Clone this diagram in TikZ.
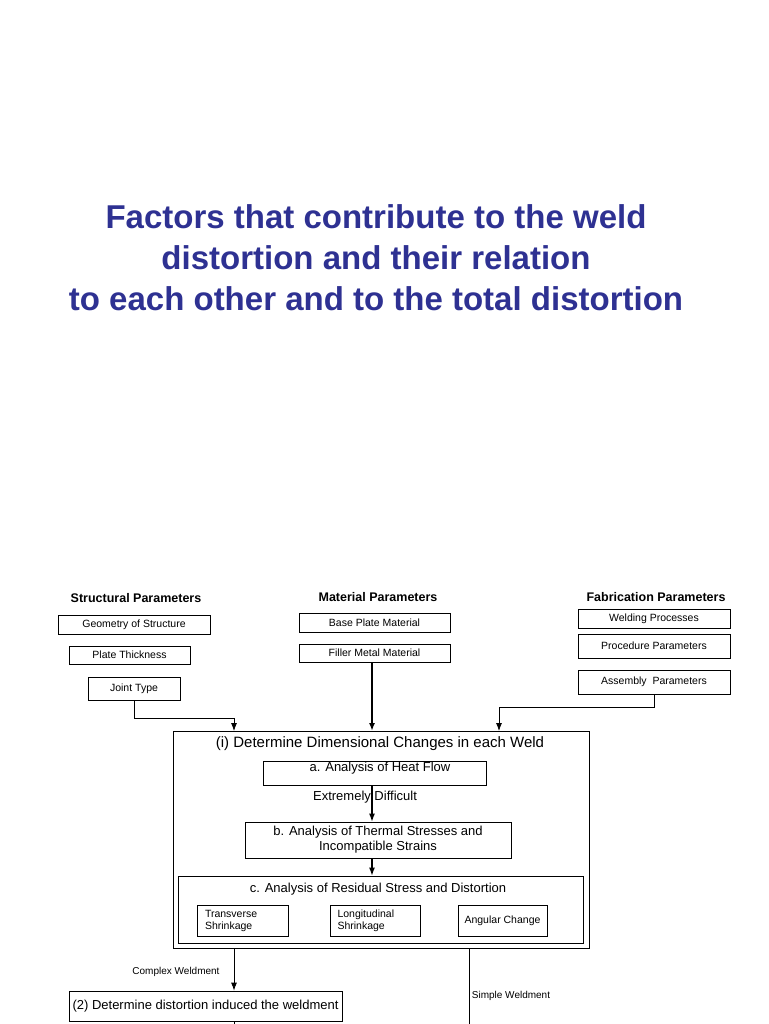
\documentclass[tikz,border=0pt]{standalone}
\usepackage{fontspec}
\setmainfont{Liberation Sans}
\usetikzlibrary{arrows.meta}
\begin{document}
\begin{tikzpicture}[x=1pt,y=-1pt,
  bx/.style={draw,line width=0.8pt,inner sep=0pt},
  t/.style={font=\fontsize{10.5}{12}\selectfont},
  m/.style={font=\fontsize{13}{15}\selectfont},
  hd/.style={font=\fontsize{12.5}{14}\selectfont\bfseries},
  arr/.style={-{Latex[length=8pt,width=6pt]},line width=0.8pt}]
\useasboundingbox[fill=white] (0,0) rectangle (768,1024);
\definecolor{tb}{RGB}{46,49,146}
\node[font=\fontsize{33}{41}\selectfont\bfseries,text=tb,align=center] (title) at (376,258)
 {Factors that contribute to the weld\\distortion and their relation\\to each other and to the total distortion};
\node[hd] (sp) at (136,598) {Structural Parameters};
\node[hd] (mp) at (378,597) {Material Parameters};
\node[hd] (fp) at (656,597) {Fabrication Parameters};
\node[bx,t,minimum width=152pt,minimum height=19pt] (g) at (134,624.5) {Geometry of Structure};
\node[bx,t,minimum width=121pt,minimum height=18pt] (pt) at (129.5,655) {Plate Thickness};
\node[bx,t,minimum width=92pt,minimum height=23pt] (jt) at (134,688.5) {Joint Type};
\node[bx,t,minimum width=151pt,minimum height=19pt] (bp) at (374.5,622.5) {Base Plate Material};
\node[bx,t,minimum width=151pt,minimum height=18pt] (fm) at (374.5,653) {Filler Metal Material};
\node[bx,t,minimum width=152pt,minimum height=19pt] (wp) at (654,618.5) {Welding Processes};
\node[bx,t,minimum width=152pt,minimum height=24pt] (pp) at (654,646) {Procedure Parameters};
\node[bx,t,minimum width=152pt,minimum height=24pt] (ap) at (654,682) {Assembly\ \ Parameters};
\node[bx,minimum width=416pt,minimum height=217pt] (big) at (381,839.5) {};
\node[font=\fontsize{15}{17}\selectfont] (bigt) at (380,744) {(i) Determine Dimensional Changes in each Weld};
\node[bx,minimum width=223pt,minimum height=24pt] (a) at (374.5,773) {};
\node[m] (at) at (380,768) {a. Analysis of Heat Flow};
\node[m] (ed) at (365,797) {Extremely Difficult};
\node[bx,m,align=center,minimum width=266pt,minimum height=36pt] (b) at (378,840) {b. Analysis of Thermal Stresses and\\Incompatible Strains};
\node[bx,minimum width=405pt,minimum height=67pt] (c) at (380.5,909.5) {};
\node[m] (ct) at (378,889) {c. Analysis of Residual Stress and Distortion};
\node[bx,t,align=left,minimum width=91pt,minimum height=31pt,text width=75pt] (tr) at (242.5,920.5) {Transverse\\Shrinkage};
\node[bx,t,align=left,minimum width=90pt,minimum height=31pt,text width=75pt] (lo) at (375,920.5) {Longitudinal\\Shrinkage};
\node[bx,t,minimum width=89pt,minimum height=31pt] (an) at (502.5,920.5) {Angular Change};
\node[bx,font=\fontsize{13}{15}\selectfont,minimum width=273pt,minimum height=30pt] (d2) at (205.5,1006) {(2) Determine distortion induced the weldment};
\node[font=\fontsize{10}{12}\selectfont] (cw) at (176,972) {Complex Weldment};
\node[font=\fontsize{10}{12}\selectfont] (sw) at (511,996) {Simple Weldment};
\coordinate (j1) at (234,731);
\coordinate (a1) at (499,731);
\coordinate (bot1) at (234,1024);
\coordinate (bot2) at (469,1024);
\draw[arr] (jt.south) |- (234,718) -- (j1);
\draw[arr] (ap.south) |- (499,707) -- (a1);
\draw[arr,line width=1.6pt] (fm.south -| 372,0) -- (372,731);
\draw[arr,line width=1.2pt] (a.south -| 372,0) -- (b.north -| 372,0);
\draw[arr,line width=1.2pt] (b.south -| 372,0) -- (c.north -| 372,0);
\draw[arr] (big.south -| 234,0) -- (d2.north -| 234,0);
\draw[line width=0.8pt] (d2.south -| 234,0) -- (bot1);
\draw[line width=0.8pt] (big.south -| 469,0) -- (bot2);
\end{tikzpicture}
\end{document}
